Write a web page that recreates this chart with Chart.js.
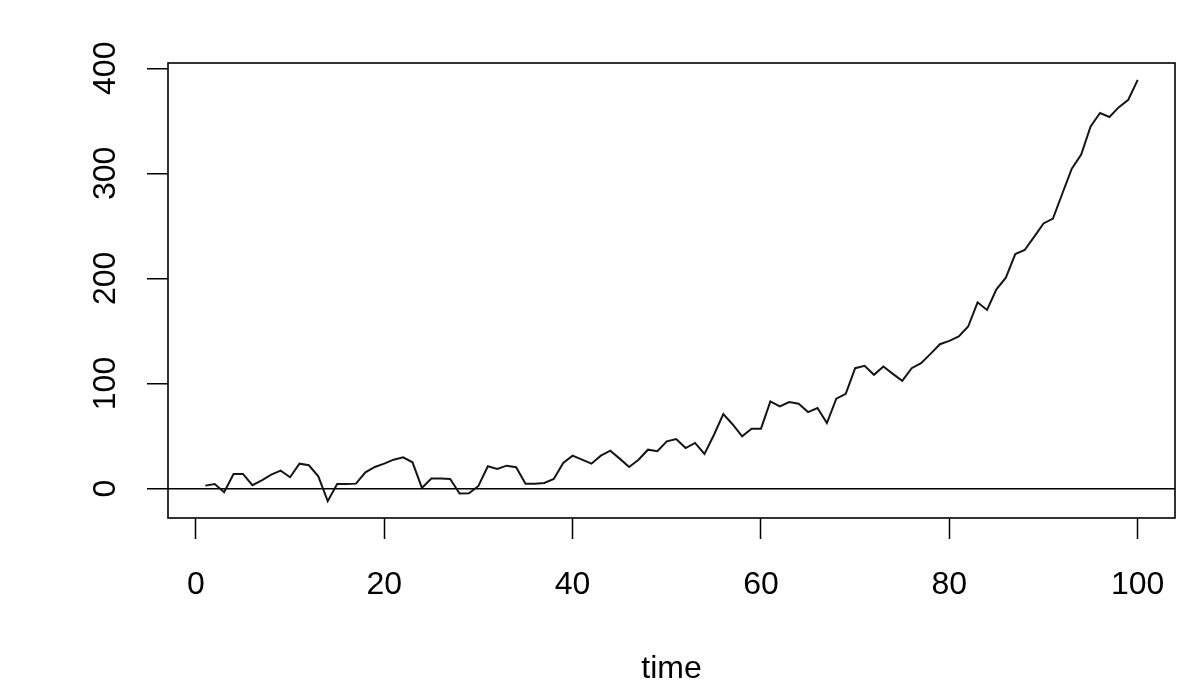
<!DOCTYPE html>
<html>
<head>
<meta charset="utf-8">
<script src="https://cdn.jsdelivr.net/npm/chart.js@4"></script>
<style>
  html, body { margin: 0; padding: 0; background: #ffffff; }
  #wrap { width: 1198px; height: 688px; }
</style>
</head>
<body>
<div id="wrap"><canvas id="c" width="1198" height="688"></canvas></div>
<script>
// ---- data ----
const timeIndex = [1,2,3,4,5,6,7,8,9,10,11,12,13,14,15,16,17,18,19,20,
  21,22,23,24,25,26,27,28,29,30,31,32,33,34,35,36,37,38,39,40,
  41,42,43,44,45,46,47,48,49,50,51,52,53,54,55,56,57,58,59,60,
  61,62,63,64,65,66,67,68,69,70,71,72,73,74,75,76,77,78,79,80,
  81,82,83,84,85,86,87,88,89,90,91,92,93,94,95,96,97,98,99,100];
const seriesValues = [2.8,4.4,-3.5,13.9,13.9,3.2,7.9,13.3,17.1,10.8,
  23.7,22.2,11.7,-12,4.4,4.4,4.7,15.5,20.6,23.7,
  27.5,29.8,25,0.6,9.5,9.5,9.2,-4.7,-4.4,2.5,
  21.2,18.7,21.8,20.3,4.7,4.7,5.4,9.2,24.4,31.3,
  27.5,23.7,31.3,36.1,28.5,20.6,27.5,37,35.5,45,
  47.2,38.6,43.4,32.9,51,70.9,61,49.7,57,57,
  82.9,78.2,82.3,80.8,72.8,76.6,62.4,85.5,90.2,114.6,
  116.8,108.3,116.2,109.2,102.6,114.6,119.4,128.2,137.4,140.6,
  144.7,154.2,177.3,170,189.6,200.7,223.2,227,239.6,252.3,
  257,280.8,304.5,317.8,344.7,357.4,353.6,363,370,389];
const xTickValues = [0, 20, 40, 60, 80, 100];
const yTickValues = [0, 100, 200, 300, 400];
const xAxisTitle = 'time';
const referenceLevel = 0; // horizontal reference line (abline h=0)

const points = timeIndex.map((t, i) => ({ x: t, y: seriesValues[i] }));
const FONT = "'Liberation Sans', Arial, Helvetica, sans-serif";

const boxPlugin = {
  id: 'box',
  afterDatasetsDraw(chart) {
    const { ctx, chartArea: a } = chart;
    ctx.save();
    ctx.strokeStyle = '#000';
    ctx.lineWidth = 1.6;
    ctx.strokeRect(a.left, a.top, a.right - a.left, a.bottom - a.top);
    ctx.restore();
  }
};

new Chart(document.getElementById('c'), {
  type: 'line',
  data: {
    datasets: [{
      data: points,
      borderColor: '#151515',
      borderWidth: 2,
      pointRadius: 0,
      tension: 0,
      fill: false
    }]
  },
  options: {
    responsive: false,
    animation: false,
    events: [],
    layout: { padding: { top: 63, right: 23, left: 0, bottom: 0 } },
    plugins: { legend: { display: false }, tooltip: { enabled: false }, title: { display: false } },
    scales: {
      x: {
        type: 'linear',
        min: -2.96,
        max: 103.96,
        afterBuildTicks(axis) { axis.ticks = xTickValues.map(v => ({ value: v })); },
        afterFit(axis) { axis.height = 170; },
        grid: {
          drawOnChartArea: false,
          drawTicks: true,
          tickLength: 21,
          tickWidth: 1.5,
          tickColor: '#000'
        },
        border: { display: false },
        ticks: {
          autoSkip: false,
          maxRotation: 0,
          minRotation: 0,
          padding: 27,
          color: '#000',
          font: { family: FONT, size: 32 }
        },
        title: {
          display: true,
          text: xAxisTitle,
          color: '#000',
          font: { family: FONT, size: 32 },
          padding: { top: 0, bottom: 0 }
        }
      },
      y: {
        type: 'linear',
        min: -28,
        max: 405,
        afterBuildTicks(axis) { axis.ticks = yTickValues.map(v => ({ value: v })); },
        afterFit(axis) { axis.width = 168; },
        grid: {
          drawOnChartArea: true,
          drawTicks: true,
          tickLength: 21,
          tickWidth: 1.5,
          lineWidth: 1.5,
          tickColor: '#000',
          color: (c) => (c.tick && c.tick.value === referenceLevel) ? '#000' : 'rgba(0,0,0,0)'
        },
        border: { display: false },
        ticks: {
          autoSkip: false,
          minRotation: 90,
          maxRotation: 90,
          crossAlign: 'center',
          padding: 14,
          color: '#000',
          font: { family: FONT, size: 32 }
        }
      }
    }
  },
  plugins: [boxPlugin]
});
</script>
</body>
</html>
